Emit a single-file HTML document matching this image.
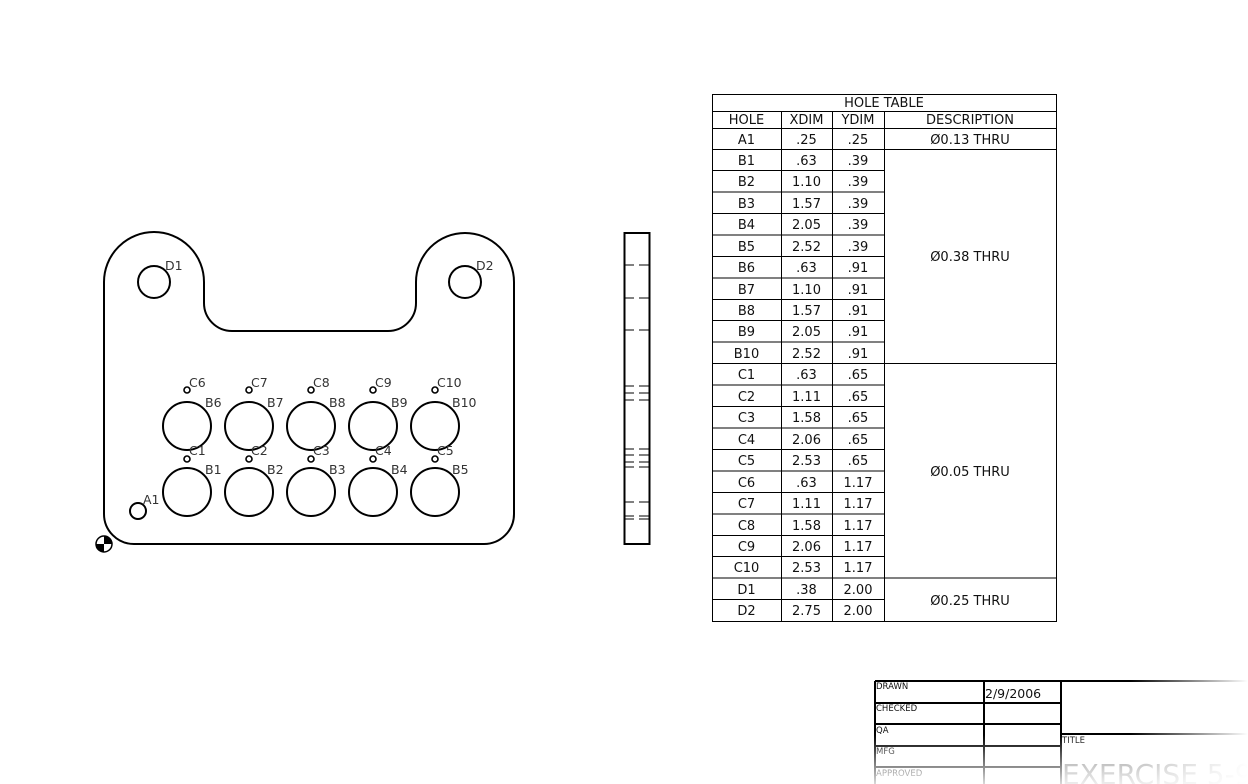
<!DOCTYPE html>
<html><head><meta charset="utf-8"><style>
html,body{margin:0;padding:0;background:#fff;}
svg{display:block;font-family:"DejaVu Sans","Liberation Sans",sans-serif;}
</style></head><body>
<svg width="1248" height="784" viewBox="0 0 1248 784" xmlns="http://www.w3.org/2000/svg">
<defs>
<linearGradient id="fr" x1="0" x2="1" y1="0" y2="0"><stop offset="0" stop-color="#fff" stop-opacity="0"/><stop offset="1" stop-color="#fff" stop-opacity="1"/></linearGradient>
<linearGradient id="fb" x1="0" x2="0" y1="0" y2="1"><stop offset="0" stop-color="#fff" stop-opacity="0"/><stop offset="1" stop-color="#fff" stop-opacity="0.85"/></linearGradient>
</defs>
<rect width="1248" height="784" fill="#fff"/>
<g fill="none" stroke="#000" stroke-width="2">
<path d="M104,282 A50,50 0 0 1 204,282 L204,303 A28,28 0 0 0 232,331 L388,331 A28,28 0 0 0 416,303 L416,282 A49,49 0 0 1 514,282 L514,514 A30,30 0 0 1 484,544 L134,544 A30,30 0 0 1 104,514 Z"/>
<circle cx="154" cy="282" r="16"/><circle cx="465" cy="282" r="16"/>
<circle cx="138" cy="511" r="8"/>
<circle cx="187" cy="426" r="24"/><circle cx="249" cy="426" r="24"/><circle cx="311" cy="426" r="24"/><circle cx="373" cy="426" r="24"/><circle cx="435" cy="426" r="24"/>
<circle cx="187" cy="492" r="24"/><circle cx="249" cy="492" r="24"/><circle cx="311" cy="492" r="24"/><circle cx="373" cy="492" r="24"/><circle cx="435" cy="492" r="24"/>
<g stroke-width="1.6">
<circle cx="187" cy="390" r="3"/><circle cx="249" cy="390" r="3"/><circle cx="311" cy="390" r="3"/><circle cx="373" cy="390" r="3"/><circle cx="435" cy="390" r="3"/>
<circle cx="187" cy="459" r="3"/><circle cx="249" cy="459" r="3"/><circle cx="311" cy="459" r="3"/><circle cx="373" cy="459" r="3"/><circle cx="435" cy="459" r="3"/>
</g>
</g>
<circle cx="104" cy="544" r="8" fill="#fff" stroke="#000" stroke-width="1.5"/>
<path d="M104,544 L104,536 A8,8 0 0 1 112,544 Z M104,544 L104,552 A8,8 0 0 1 96,544 Z" fill="#000"/>
<g font-size="12.5" fill="#333">
<text x="165" y="270">D1</text><text x="476" y="270">D2</text>
<text x="143" y="504">A1</text>
<text x="189" y="387">C6</text><text x="251" y="387">C7</text><text x="313" y="387">C8</text><text x="375" y="387">C9</text><text x="437" y="387">C10</text>
<text x="205" y="407">B6</text><text x="267" y="407">B7</text><text x="329" y="407">B8</text><text x="391" y="407">B9</text><text x="452" y="407">B10</text>
<text x="189" y="455">C1</text><text x="251" y="455">C2</text><text x="313" y="455">C3</text><text x="375" y="455">C4</text><text x="437" y="455">C5</text>
<text x="205" y="474">B1</text><text x="267" y="474">B2</text><text x="329" y="474">B3</text><text x="391" y="474">B4</text><text x="452" y="474">B5</text>
</g>
<rect x="624.5" y="233" width="25" height="311" fill="none" stroke="#000" stroke-width="2"/>
<g stroke="#000" stroke-width="1">
<path d="M625,265h9M639,265h10M625,298h9M639,298h10M625,330h9M639,330h10M625,386h9M639,386h10M625,393h9M639,393h10M625,400h9M639,400h10M625,449h9M639,449h10M625,455h9M639,455h10M625,462h9M639,462h10M625,467h9M639,467h10M625,502h9M639,502h10M625,516h9M639,516h10M625,519h9M639,519h10"/>
</g>
<g fill="none" stroke="#000" stroke-width="1">
<rect x="712.5" y="94.5" width="344" height="527"/>
<path d="M712,111.5H1056M712,128.5H1056M712,149.5H1056"/>
<path d="M781.5,111V621M832.5,111V621M884.5,111V621"/>
<path d="M712,170.5H884M712,192H884M712,213.5H884M712,235H884M712,256.5H884M712,278H884M712,299.5H884M712,320.5H884M712,342H884M712,363.5H1056M712,385H884M712,406.5H884M712,428H884M712,449.5H884M712,471H884M712,492.5H884M712,514H884M712,535.5H884M712,556.5H884M712,578H1056M712,599.5H884"/>
</g>
<g font-size="13" fill="#111" text-anchor="middle">
<text x="884" y="107">HOLE TABLE</text>
<text x="746.5" y="124">HOLE</text><text x="806.5" y="124">XDIM</text><text x="858" y="124">YDIM</text><text x="970" y="124">DESCRIPTION</text>
<text x="746.5" y="144">A1</text><text x="806.5" y="144">.25</text><text x="858" y="144">.25</text><text x="970" y="144">Ø0.13 THRU</text>
<text x="746.5" y="165">B1</text><text x="806.5" y="165">.63</text><text x="858" y="165">.39</text>
<text x="746.5" y="186">B2</text><text x="806.5" y="186">1.10</text><text x="858" y="186">.39</text>
<text x="746.5" y="208">B3</text><text x="806.5" y="208">1.57</text><text x="858" y="208">.39</text>
<text x="746.5" y="229">B4</text><text x="806.5" y="229">2.05</text><text x="858" y="229">.39</text>
<text x="746.5" y="251">B5</text><text x="806.5" y="251">2.52</text><text x="858" y="251">.39</text>
<text x="746.5" y="272">B6</text><text x="806.5" y="272">.63</text><text x="858" y="272">.91</text>
<text x="746.5" y="294">B7</text><text x="806.5" y="294">1.10</text><text x="858" y="294">.91</text>
<text x="746.5" y="315">B8</text><text x="806.5" y="315">1.57</text><text x="858" y="315">.91</text>
<text x="746.5" y="336">B9</text><text x="806.5" y="336">2.05</text><text x="858" y="336">.91</text>
<text x="746.5" y="358">B10</text><text x="806.5" y="358">2.52</text><text x="858" y="358">.91</text>
<text x="746.5" y="379">C1</text><text x="806.5" y="379">.63</text><text x="858" y="379">.65</text>
<text x="746.5" y="401">C2</text><text x="806.5" y="401">1.11</text><text x="858" y="401">.65</text>
<text x="746.5" y="422">C3</text><text x="806.5" y="422">1.58</text><text x="858" y="422">.65</text>
<text x="746.5" y="444">C4</text><text x="806.5" y="444">2.06</text><text x="858" y="444">.65</text>
<text x="746.5" y="465">C5</text><text x="806.5" y="465">2.53</text><text x="858" y="465">.65</text>
<text x="746.5" y="487">C6</text><text x="806.5" y="487">.63</text><text x="858" y="487">1.17</text>
<text x="746.5" y="508">C7</text><text x="806.5" y="508">1.11</text><text x="858" y="508">1.17</text>
<text x="746.5" y="530">C8</text><text x="806.5" y="530">1.58</text><text x="858" y="530">1.17</text>
<text x="746.5" y="551">C9</text><text x="806.5" y="551">2.06</text><text x="858" y="551">1.17</text>
<text x="746.5" y="572">C10</text><text x="806.5" y="572">2.53</text><text x="858" y="572">1.17</text>
<text x="746.5" y="594">D1</text><text x="806.5" y="594">.38</text><text x="858" y="594">2.00</text>
<text x="746.5" y="615">D2</text><text x="806.5" y="615">2.75</text><text x="858" y="615">2.00</text>
<text x="970" y="261">Ø0.38 THRU</text>
<text x="970" y="476">Ø0.05 THRU</text>
<text x="970" y="605">Ø0.25 THRU</text>
</g>
<g fill="none" stroke="#000" stroke-width="2">
<path d="M875,681H1248M875,703H1061M875,724H1061M875,746H1061M875,767H1061M1061,734H1248"/>
<path d="M875,681V784M984,681V784M1061,681V784"/>
</g>
<g font-size="8.5" fill="#111">
<text x="876" y="689">DRAWN</text><text x="876" y="711">CHECKED</text><text x="876" y="733">QA</text><text x="876" y="754">MFG</text><text x="876" y="776">APPROVED</text>
<text x="1062" y="743">TITLE</text>
</g>
<text x="985" y="698" font-size="12.5" fill="#111">2/9/2006</text>
<text x="1062" y="784" font-size="28" fill="#888">EXERCISE 5-9</text>
<rect x="1130" y="675" width="118" height="109" fill="url(#fr)"/>
<rect x="870" y="735" width="380" height="49" fill="url(#fb)"/>
</svg>
</body></html>
